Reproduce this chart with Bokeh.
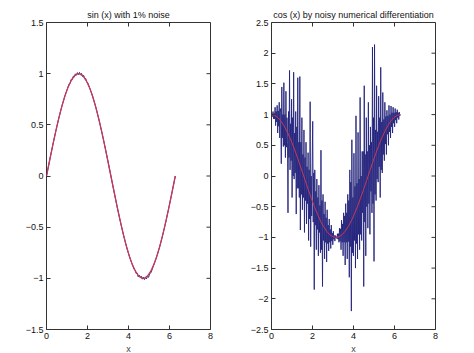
import numpy as np
from bokeh.plotting import figure
from bokeh.layouts import row
from bokeh.models import FixedTicker, Range1d
from bokeh.embed import file_html
from bokeh.resources import INLINE

# ---- data ----
titles = ["sin (x) with 1% noise", "cos (x) by noisy numerical differentiation"]
x_label = "x"

x_ticks = [0, 2, 4, 6, 8]
x_tick_labels = ["0", "2", "4", "6", "8"]
left_y_ticks = [-1.5, -1, -0.5, 0, 0.5, 1, 1.5]
left_y_tick_labels = ["\u22121.5", "\u22121", "\u22120.5", "0", "0.5", "1", "1.5"]
right_y_ticks = [-2.5, -2, -1.5, -1, -0.5, 0, 0.5, 1, 1.5, 2, 2.5]
right_y_tick_labels = ["\u22122.5", "\u22122", "\u22121.5", "\u22121", "\u22120.5", "0",
                       "0.5", "1", "1.5", "2", "2.5"]

# sample positions (0 .. 2*pi)
x_sin_noisy = np.linspace(0, 2 * np.pi, 126)
x_cos_noisy = np.linspace(0, 2 * np.pi, 251)
x_smooth = np.linspace(0, 2 * np.pi, 43)

# noisy sine samples (blue)
sin_noisy = [
    0.000, 0.050, 0.100, 0.150, 0.200, 0.249, 0.297, 0.345, 0.391, 0.437,
    0.482, 0.525, 0.567, 0.608, 0.647, 0.685, 0.720, 0.754, 0.786, 0.816,
    0.844, 0.871, 0.900, 0.905, 0.945, 0.942, 0.975, 0.968, 0.998, 0.985,
    1.010, 0.990, 1.012, 0.986, 1.002, 0.972, 0.984, 0.950, 0.953, 0.917,
    0.912, 0.882, 0.858, 0.831, 0.802, 0.771, 0.738, 0.703, 0.666, 0.628,
    0.588, 0.546, 0.503, 0.459, 0.414, 0.368, 0.321, 0.273, 0.224, 0.175,
    0.125, 0.075, 0.025, -0.025, -0.075, -0.125, -0.175, -0.224, -0.273, -0.321,
    -0.368, -0.414, -0.459, -0.503, -0.546, -0.588, -0.628, -0.666, -0.703, -0.738,
    -0.771, -0.802, -0.831, -0.858, -0.882, -0.912, -0.918, -0.952, -0.950, -0.985,
    -0.970, -0.993, -0.980, -1.008, -0.988, -1.012, -0.991, -1.006, -0.980, -0.990,
    -0.958, -0.950, -0.928, -0.898, -0.871, -0.844, -0.816, -0.786, -0.754, -0.720,
    -0.685, -0.647, -0.608, -0.567, -0.525, -0.482, -0.437, -0.391, -0.345, -0.297,
    -0.249, -0.200, -0.150, -0.100, -0.050, 0.000,
]

# noisy numerical derivative (blue)
cos_noisy = [
    1.00, 0.97, 0.97, 1.05, 0.93, 1.02, 0.93, 1.12, 0.82, 1.05,
    0.88, 1.15, 0.70, 1.06, 0.81, 1.20, 0.62, 1.04, 1.10, 0.20,
    1.45, 0.62, 1.00, 0.48, 1.52, 0.50, 1.00, 0.30, 1.38, 0.47,
    0.95, 0.55, -0.60, 1.05, 0.30, 1.72, 0.10, 0.85, 0.25, 1.25,
    -0.35, 0.95, 0.00, 1.69, -0.05, 0.70, 0.05, 1.05, -0.62, 0.80,
    -0.20, 1.60, -0.20, 0.55, -0.35, 1.62, -0.88, 0.55, -0.30, 0.95,
    -0.55, 0.35, -0.35, 0.75, -0.92, 0.30, -0.40, 0.55, -0.78, 0.15,
    -0.45, 0.38, -1.05, 0.10, -0.70, 1.21, -1.15, 0.00, -0.65, 0.20,
    0.89, -0.75, 0.05, -1.85, 0.10, -0.80, -0.25, -1.20, -0.05, -0.87,
    -0.35, -1.30, -0.15, -0.92, -0.48, -1.25, 0.42, -1.20, -0.40, -1.80,
    -0.30, -1.05, -0.62, -1.35, -0.42, -1.08, -0.68, -1.40, -0.55, -1.10,
    -0.80, -1.22, -0.70, -1.08, -0.87, -1.18, -0.80, -1.06, -0.93, -1.12,
    -0.90, -1.03, -0.97, -1.06, -0.97, -1.01, -0.99, -1.02, -0.94, -1.03,
    -0.94, -1.08, -0.85, -1.06, -0.86, -1.20, -0.72, -1.08, -0.78, -1.30,
    -0.60, -1.08, -0.65, -1.45, -0.45, -1.08, -0.60, -1.35, -0.30, -1.07,
    -0.40, -1.65, 0.10, -1.15, -0.10, -2.20, 0.59, -1.25, -0.35, -1.30,
    0.37, -1.05, -0.17, -1.50, 0.98, -1.10, -0.12, -1.35, 0.71, -0.95,
    -0.05, -1.20, 1.28, -0.95, 0.00, -1.05, 0.40, -0.60, 0.40, -1.80,
    1.47, -0.75, 0.35, -1.30, 0.95, -0.50, 0.40, -0.85, 1.20, -0.45,
    0.50, -0.95, 0.80, -0.25, 0.55, -0.60, 2.10, -0.45, 0.95, -1.39,
    2.14, -0.30, 0.75, -0.40, 1.47, -0.05, 0.72, -0.10, 1.30, 0.15,
    0.95, -0.35, 1.77, 0.10, 0.88, 0.05, 1.36, 0.35, 0.92, 0.25,
    1.20, 0.52, 0.97, 0.35, 1.07, 0.68, 0.98, 0.50, 1.15, 0.72,
    1.00, 0.62, 1.14, 0.80, 1.03, 0.70, 1.12, 0.86, 1.03, 0.80,
    1.10, 0.91, 1.04, 0.86, 1.08, 0.95, 1.03, 0.92, 1.04, 0.98,
    1.00,
]

# exact curves (red)
sin_exact = [
    0.000, 0.149, 0.295, 0.434, 0.563, 0.680, 0.782, 0.866, 0.930, 0.975,
    0.997, 0.997, 0.975, 0.930, 0.866, 0.782, 0.680, 0.563, 0.434, 0.295,
    0.149, 0.000, -0.149, -0.295, -0.434, -0.563, -0.680, -0.782, -0.866, -0.930,
    -0.975, -0.997, -0.997, -0.975, -0.930, -0.866, -0.782, -0.680, -0.563, -0.434,
    -0.295, -0.149, 0.000,
]
cos_exact = [
    1.000, 0.989, 0.956, 0.901, 0.826, 0.733, 0.623, 0.500, 0.365, 0.223,
    0.075, -0.075, -0.223, -0.365, -0.500, -0.623, -0.733, -0.826, -0.901, -0.956,
    -0.989, -1.000, -0.989, -0.956, -0.901, -0.826, -0.733, -0.623, -0.500, -0.365,
    -0.223, -0.075, 0.075, 0.223, 0.365, 0.500, 0.623, 0.733, 0.826, 0.901,
    0.956, 0.989, 1.000,
]

BLUE = "#23237c"
RED = "#c8385a"
FONT = "Liberation Sans"
FS = "9px"
FRAME_W, FRAME_H = 164, 307
TICK_PX = 4


def style_axis(ax, ticks, labels):
    ax.ticker = FixedTicker(ticks=ticks)
    ax.major_label_overrides = {t: l for t, l in zip(ticks, labels)}
    ax.major_tick_in = TICK_PX
    ax.major_tick_out = 0
    ax.minor_tick_in = 0
    ax.minor_tick_out = 0
    ax.axis_line_color = None
    ax.major_tick_line_color = "#333333"
    ax.major_label_text_font = FONT
    ax.major_label_text_font_size = FS
    ax.major_label_text_color = "#111111"
    ax.major_label_standoff = 3
    ax.axis_label_text_font = FONT
    ax.axis_label_text_font_size = FS
    ax.axis_label_text_font_style = "normal"
    ax.axis_label_standoff = 2


def make_fig(title, yr, yt, ytl, bl, br):
    p = figure(frame_width=FRAME_W, frame_height=FRAME_H,
               x_range=Range1d(0, 8), y_range=Range1d(*yr),
               output_backend="svg", toolbar_location=None,
               min_border_left=bl, min_border_right=br,
               min_border_top=22, min_border_bottom=4,
               title=title)
    p.title.align = "center"
    p.title.text_font = FONT
    p.title.text_font_size = FS
    p.title.text_font_style = "normal"
    p.title.text_color = "#111111"
    p.title.standoff = 5
    p.grid.visible = False
    p.outline_line_color = "#333333"
    p.outline_line_width = 1
    style_axis(p.xaxis[0], x_ticks, x_tick_labels)
    p.xaxis[0].axis_label = x_label
    style_axis(p.yaxis[0], yt, ytl)
    # inward ticks on the top and right edges of the box (MATLAB style)
    x0, x1 = 0, 8
    y0, y1 = yr
    dy = (y1 - y0) / FRAME_H * TICK_PX
    dx = (x1 - x0) / FRAME_W * TICK_PX
    p.segment(x0=x_ticks, x1=x_ticks, y0=[y1] * len(x_ticks),
              y1=[y1 - dy] * len(x_ticks), line_color="#333333", line_width=1)
    p.segment(x0=[x1] * len(yt), x1=[x1 - dx] * len(yt), y0=yt, y1=yt,
              line_color="#333333", line_width=1)
    p.background_fill_color = "white"
    p.border_fill_color = "white"
    return p


p1 = make_fig(titles[0], (-1.5, 1.5), left_y_ticks, left_y_tick_labels, 46, 27)
p1.line(x_sin_noisy, sin_noisy, line_color=BLUE, line_width=1)
p1.line(x_smooth, sin_exact, line_color=RED, line_width=1.3)

p2 = make_fig(titles[1], (-2.5, 2.5), right_y_ticks, right_y_tick_labels, 34, 39)
p2.line(x_cos_noisy, cos_noisy, line_color=BLUE, line_width=1, line_alpha=0.9)
p2.line(x_smooth, cos_exact, line_color=RED, line_width=1)

layout = row(p1, p2, spacing=0)
open("out.html", "w").write(file_html(layout, INLINE))
